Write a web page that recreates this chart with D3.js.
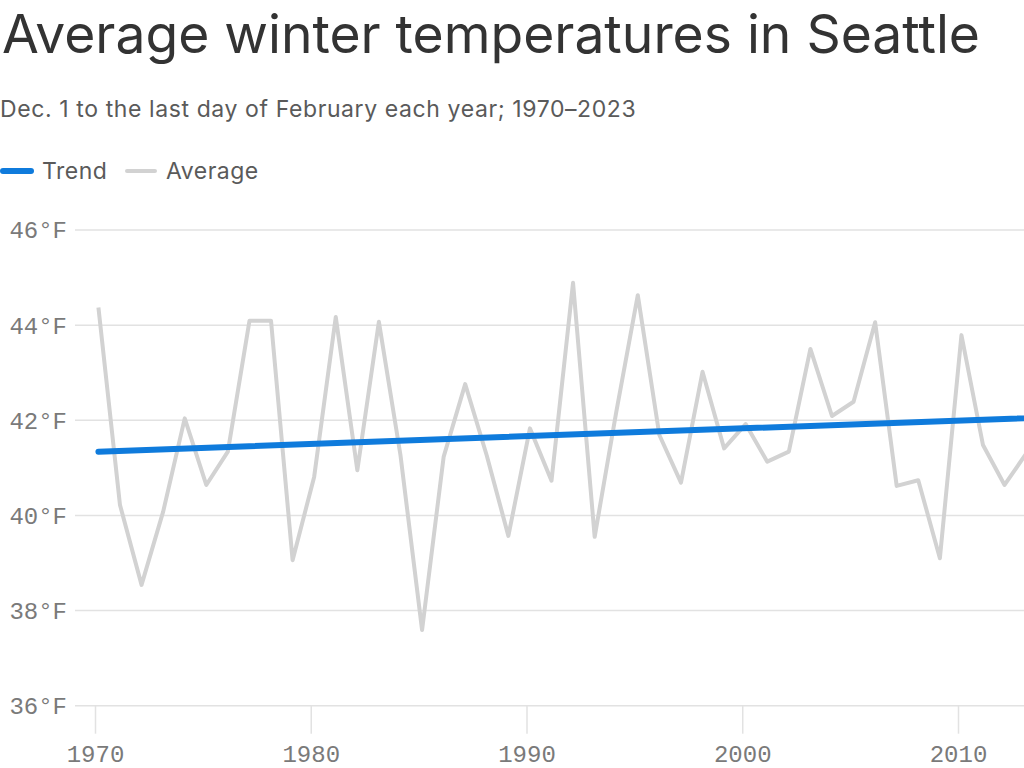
<!DOCTYPE html>
<html>
<head>
<meta charset="utf-8">
<script src="https://cdn.jsdelivr.net/npm/d3@7"></script>
<style>
  body { margin: 0; background: #fff; overflow: hidden; }
  svg { display: block; }
  .title { font-family: Inter, "Noto Sans", sans-serif; fill: #333; }
  .sub, .legend-label { font-family: Inter, "Noto Sans", sans-serif; fill: #5a5a5a; }
  .axis-label { font-family: "Liberation Mono", "DejaVu Sans Mono", monospace; fill: #7a7a7a; }
</style>
</head>
<body>
<svg id="chart" width="1024" height="768"></svg>
<script>
// winters ending in each year (Dec 1 - end of Feb)
const years = d3.range(1970, 2024);
const avgTemps = [
  44.37, 40.22, 38.54, 40.08, 42.04, 40.64, 41.34, 44.09, 44.09, 39.06,
  40.81, 44.17, 40.95, 44.07, 41.27, 37.59, 41.23, 42.76, 41.26, 39.57,
  41.83, 40.73, 44.89, 39.55, 42.17, 44.63, 41.69, 40.69, 43.02, 41.41,
  41.92, 41.13, 41.34, 43.50, 42.09, 42.39, 44.06, 40.62, 40.74, 39.10,
  43.79, 41.48, 40.64, 41.30, 41.00, 44.60, 44.20, 38.70, 41.60, 39.80,
  42.90, 42.10, 41.20, 40.60
];
// linear trend, start and end
const trendYears = [1970, 2023];
const trendTemps = [41.34, 42.21];
const yTicks = [36, 38, 40, 42, 44, 46];

const W = 1024;
const svg = d3.select("#chart");

const x = d3.scaleTime()
  .domain([new Date(1970, 0, 1), new Date(2023, 0, 1)])
  .range([95, 95 + 53 * 21.575]);
const y = d3.scaleLinear().domain([36, 46]).range([705.7, 230]);

// data is dated at the end of each winter
const when = yr => new Date(yr, 1, 28);

// title + subtitle
svg.append("text").attr("class", "title")
  .attr("x", 2).attr("y", 53)
  .style("font-size", "53.4px")
  .text("Average winter temperatures in Seattle");

svg.append("text").attr("class", "sub")
  .attr("x", 0).attr("y", 117)
  .style("font-size", "23px")
  .style("letter-spacing", "0.6px")
  .text("Dec. 1 to the last day of February each year; 1970\u20132023");

// legend
const legend = [
  { name: "Trend", color: "#0f7bdc", width: 6, x: 0 },
  { name: "Average", color: "#d2d2d2", width: 4, x: 124 }
];
const lg = svg.append("g").selectAll("g").data(legend).join("g")
  .attr("transform", d => `translate(${d.x},171)`);
lg.append("line")
  .attr("x1", 3).attr("x2", 31)
  .attr("stroke", d => d.color)
  .attr("stroke-width", d => d.width)
  .attr("stroke-linecap", "round");
lg.append("text").attr("class", "legend-label")
  .attr("x", 42).attr("y", 7.5)
  .style("font-size", "23px")
  .style("letter-spacing", "0.5px")
  .text(d => d.name);

// grid + y labels
const yAxis = svg.append("g");
yAxis.selectAll("line").data(yTicks).join("line")
  .attr("x1", 75).attr("x2", W)
  .attr("y1", d => y(d)).attr("y2", d => y(d))
  .attr("stroke", "#e2e2e2").attr("stroke-width", 1.5);
yAxis.selectAll("text").data(yTicks).join("text")
  .attr("class", "axis-label")
  .attr("x", 67).attr("y", d => y(d))
  .attr("dy", "0.35em")
  .attr("text-anchor", "end")
  .style("font-size", "24px")
  .text(d => d + "\u00b0F");

// x axis (only the decades that fit in the window)
const xTicks = x.ticks(d3.timeYear.every(10)).filter(d => x(d) < W - 40);
const xAxis = d3.axisBottom(x)
  .tickValues(xTicks)
  .tickFormat(d3.timeFormat("%Y"))
  .tickSize(28)
  .tickPadding(11);
const xg = svg.append("g").attr("transform", `translate(0,${y(36)})`).call(xAxis);
xg.select(".domain").remove();
xg.selectAll(".tick line").attr("stroke", "#e2e2e2").attr("stroke-width", 1.5);
xg.selectAll(".tick text")
  .attr("class", "axis-label")
  .attr("fill", null)
  .attr("font-family", null)
  .style("font-size", "24px");

// average line
const avgLine = d3.line()
  .x((d, i) => x(when(years[i])))
  .y(d => y(d));
svg.append("path")
  .datum(avgTemps)
  .attr("d", avgLine)
  .attr("fill", "none")
  .attr("stroke", "#d2d2d2")
  .attr("stroke-width", 4)
  .attr("stroke-linejoin", "round");

// trend line
const trendLine = d3.line()
  .x((d, i) => x(when(trendYears[i])))
  .y(d => y(d));
svg.append("path")
  .datum(trendTemps)
  .attr("d", trendLine)
  .attr("fill", "none")
  .attr("stroke", "#0f7bdc")
  .attr("stroke-width", 6)
  .attr("stroke-linecap", "round");
</script>
</body>
</html>
